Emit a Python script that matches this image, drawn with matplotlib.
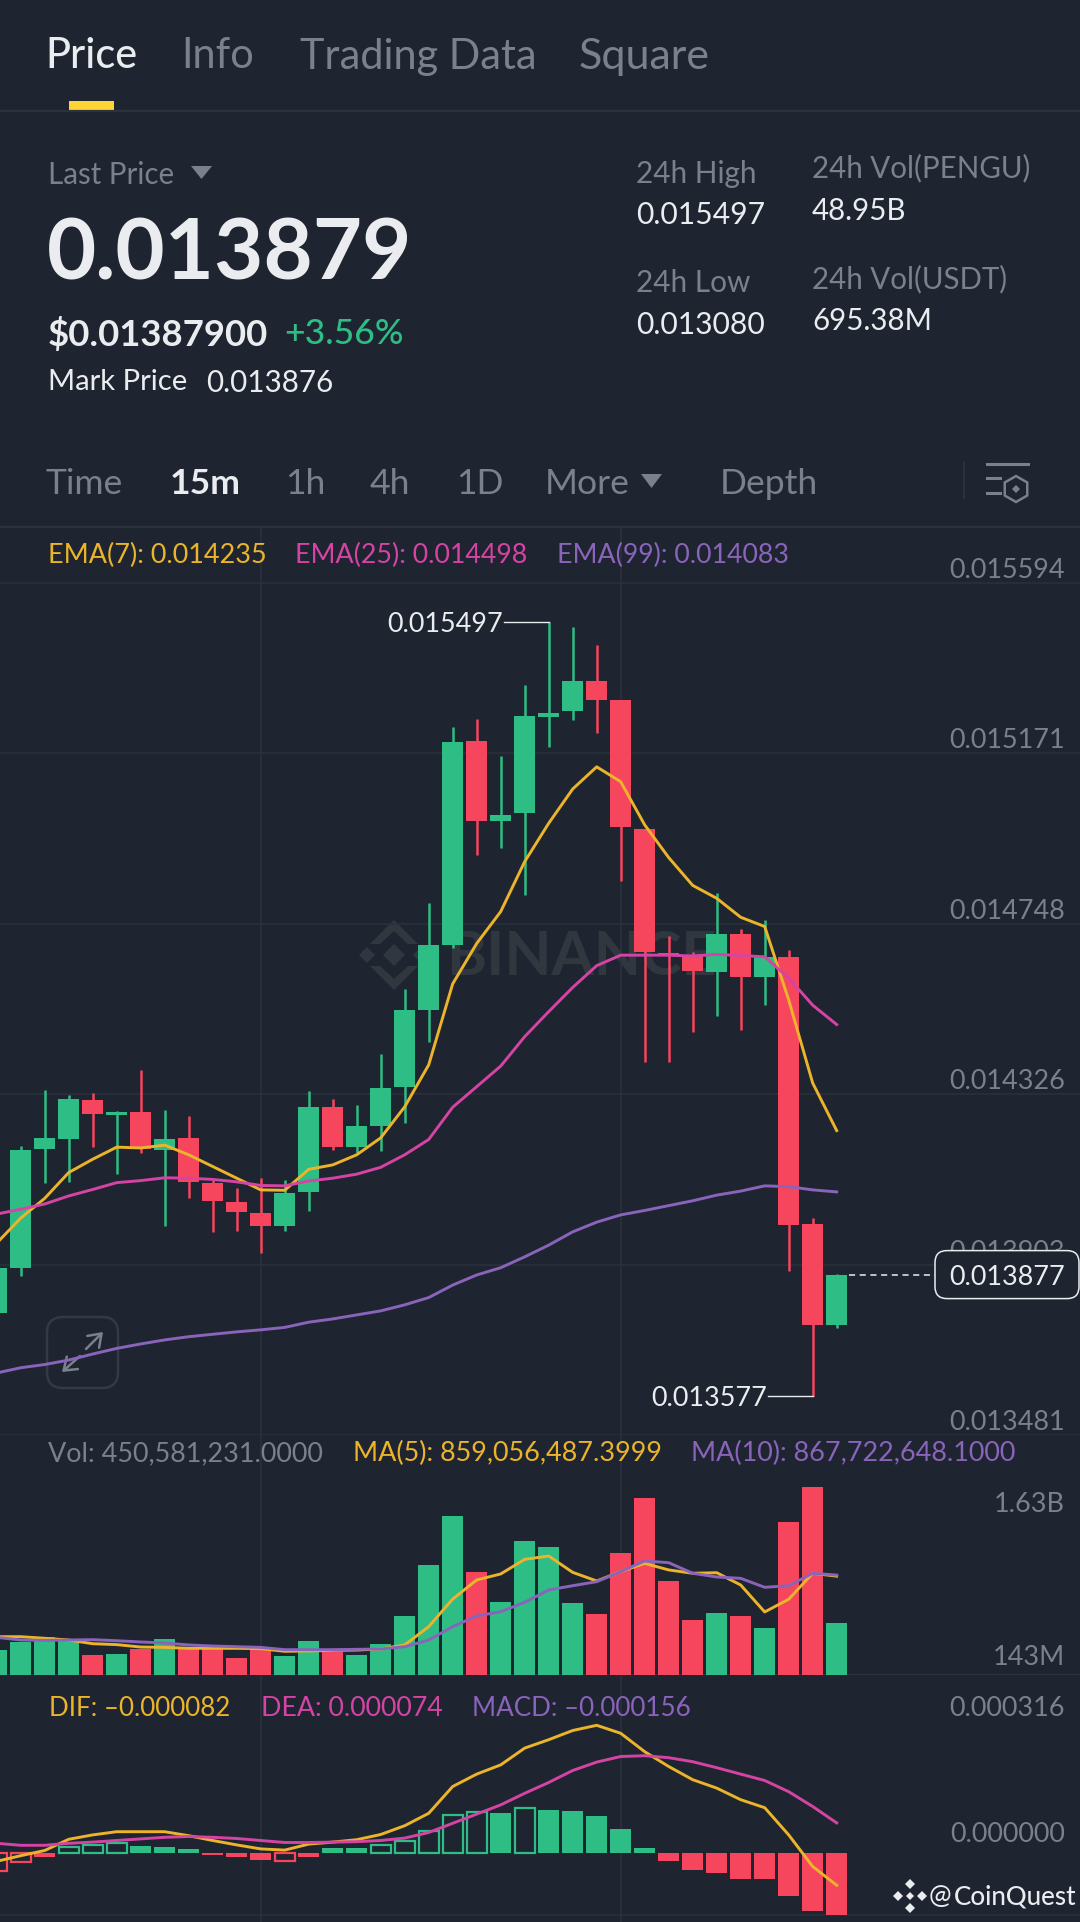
import matplotlib
matplotlib.use('agg')
import matplotlib.pyplot as plt
import numpy as np
from matplotlib.patches import FancyBboxPatch, Polygon, RegularPolygon

# Candles from index -1 to 34, prices in millionths
candle_index = list(range(-1, 35))
opens = [13782, 13894, 14189, 14215, 14311, 14274, 14281, 14187, 14216, 14106, 14058, 14030,
         13999, 14082, 14294, 14194, 14246, 14343, 14534, 14695, 15202, 15003, 15023, 15261,
         15275, 15349, 15303, 14984, 14676, 14669, 14628, 14723, 14617, 14666, 14003, 13752]
highs = [13894, 14197, 14336, 14323, 14328, 14284, 14385, 14286, 14271, 14113, 14092, 14117,
         14113, 14332, 14313, 14299, 14424, 14585, 14800, 15235, 15255, 15165, 15340, 15497,
         15483, 15438, 15303, 14984, 14718, 14679, 14823, 14736, 14757, 14683, 14018, 13880]
lows = [13782, 13874, 14106, 14108, 14195, 14127, 14180, 13999, 14069, 13983, 13985, 13931,
        13985, 14036, 14187, 14179, 14184, 14255, 14455, 14687, 14918, 14936, 14820, 15187,
        15252, 15220, 14854, 14404, 14404, 14480, 14518, 14484, 14547, 13886, 13577, 13746]
closes = [13894, 14187, 14216, 14313, 14276, 14280, 14189, 14214, 14107, 14060, 14032, 13999,
          14080, 14293, 14194, 14247, 14341, 14534, 14695, 15199, 15003, 15017, 15264, 15270,
          15349, 15303, 14988, 14679, 14668, 14631, 14723, 14615, 14666, 14000, 13754, 13877]

ema7 = [13956, 14018, 14067, 14131, 14164, 14194, 14192, 14199, 14175, 14146, 14117, 14088,
        14087, 14139, 14150, 14175, 14217, 14294, 14398, 14599, 14699, 14778, 14902, 14997,
        15082, 15137, 15100, 14993, 14912, 14843, 14811, 14764, 14741, 14559, 14353, 14235]
ema25 = [14028, 14040, 14053, 14073, 14089, 14106, 14111, 14118, 14117, 14114, 14108, 14099,
         14098, 14110, 14117, 14127, 14144, 14175, 14213, 14293, 14344, 14395, 14468, 14530,
         14590, 14644, 14670, 14670, 14670, 14668, 14672, 14669, 14666, 14613, 14546, 14498]
ema99 = [13634, 13647, 13655, 13666, 13681, 13695, 13706, 13716, 13724, 13730, 13736, 13741,
         13747, 13760, 13768, 13778, 13788, 13803, 13821, 13852, 13877, 13895, 13922, 13951,
         13984, 14008, 14026, 14037, 14049, 14061, 14075, 14085, 14098, 14096, 14088, 14083]

# Volume in millions
volume = [217, 287, 327, 293, 174, 185, 223, 313, 238, 246, 145, 246, 162, 293, 203, 177, 269, 510,
          956, 1382, 895, 632, 1162, 1110, 626, 530, 1057, 1538, 817, 475, 542, 510, 406, 1327, 1630, 451]
vol_ma5 = [333, 333, 319, 304, 272, 264, 243, 240, 232, 232, 232, 229, 206, 209, 214, 217, 226, 261,
           420, 660, 826, 878, 1005, 1034, 892, 817, 898, 970, 913, 884, 889, 782, 548, 658, 884, 859]
vol_ma10 = [327, 304, 301, 304, 307, 298, 287, 278, 261, 252, 246, 240, 220, 220, 220, 223, 226, 246,
            304, 420, 513, 550, 632, 739, 776, 811, 898, 991, 976, 884, 852, 840, 762, 776, 884, 868]

# MACD in millionths
macd = [-46, -24, -10, 13, 19, 25, 17, 15, 8, -7, -12, -19, -20, -10, 12, 12, 19, 30,
        53, 94, 101, 100, 111, 107, 104, 92, 58, 12, -20, -44, -52, -65, -67, -108, -147, -156]
macd_hollow = [1, 1, 0, 1, 1, 1, 0, 0, 0, 0, 0, 0, 1, 0, 0, 0, 1, 1,
               1, 1, 1, 0, 1, 0, 0, 0, 0, 0, 0, 0, 0, 0, 0, 0, 0, 0]
dif = [-22, -8, 5, 33, 44, 52, 52, 52, 42, 30, 19, 9, 6, 21, 26, 32, 45, 67,
       98, 165, 196, 219, 261, 282, 305, 318, 298, 252, 215, 182, 161, 132, 112, 44, -35, -82]
dea = [23, 18, 18, 23, 26, 30, 34, 38, 40, 38, 35, 30, 25, 25, 26, 27, 30, 36,
       50, 73, 96, 119, 148, 175, 205, 226, 240, 242, 237, 227, 212, 196, 180, 152, 115, 74]

price_ticks = [0.015594, 0.015171, 0.014748, 0.014326, 0.013903, 0.013481]
price_tick_labels = ['0.015594', '0.015171', '0.014748', '0.014326', '0.013903', '0.013481']
time_grid = [10, 25]
high_price = 0.015497
low_price = 0.013577
last_price = 0.013877

BG = '#1e2530'
GRID = '#2b323d'
GREEN = '#2ebd85'
RED = '#f6465d'
YELLOW = '#ebb42a'
MAGENTA = '#d544a4'
PURPLE = '#8a63bb'
GRAY = '#7a818c'
WHITE = '#eaecef'
MARK = '#30373f'

plt.rcParams['font.family'] = ['Lato', 'DejaVu Sans']

W, H = 1080, 1922
fig = plt.figure(figsize=(W / 100, H / 100), dpi=100, facecolor=BG)


def panel(top, bottom, ymin, ymax):
    """Full width axes between two pixel rows, x in candle units."""
    ax = fig.add_axes([0, 1 - bottom / H, 1, (bottom - top) / H])
    ax.set_xlim((0 - 20.7) / 24, (W - 20.7) / 24)
    ax.set_ylim(ymin, ymax)
    ax.patch.set_alpha(0)
    ax.axis('off')
    for x in time_grid:
        ax.axvline(x, color=GRID, lw=1.2, zorder=0)
    return ax


def pixel_axes(zorder):
    ax = fig.add_axes([0, 0, 1, 1], zorder=zorder)
    ax.set_xlim(0, W)
    ax.set_ylim(H, 0)
    ax.patch.set_alpha(0)
    ax.axis('off')
    return ax


# Header and other chrome, in pixel coordinates
ui = pixel_axes(-1)
# Legends and the author tag go over the chart panels
over = pixel_axes(5)


def label(x, y, s, color=GRAY, px=27, weight='normal', ha='left', ax=None):
    # Lato sits a little high in its box, hence the 2.5 px
    (ax or ui).text(x, y + 2.5, s, color=color, fontsize=px * 0.72, fontweight=weight,
                    ha=ha, va='center', zorder=5)


def triangle(x0, x1, y0, y1):
    ui.add_patch(Polygon([(x0, y0), (x1, y0), ((x0 + x1) / 2, y1)], closed=True, color=GRAY, lw=0))


label(45, 54, 'Price', WHITE, 41.5, 'medium')
label(181, 54, 'Info', GRAY, 41.5)
label(300, 54, 'Trading Data', GRAY, 41.5)
label(579, 54, 'Square', GRAY, 43)
ui.add_patch(plt.Rectangle((69, 101), 45, 9, color='#fcd535', lw=0))
ui.plot([0, W], [111, 111], color=GRID, lw=1.6)

label(48, 172, 'Last Price', GRAY, 29.5)
triangle(191, 212, 166, 179)
label(47, 253, '0.013879', WHITE, 85, 'bold')
label(48, 332, '$0.01387900', WHITE, 36.5, 'bold')
label(284, 332, '+3.56%', GREEN, 35.5, 'medium')
label(48, 380, 'Mark Price', WHITE, 29.3)
label(206, 380, '0.013876', WHITE, 29.6)

label(636, 171, '24h High', GRAY, 29.8)
label(636, 213, '0.015497', WHITE, 30)
label(636, 281, '24h Low', GRAY, 29.8)
label(636, 323, '0.013080', WHITE, 30)
label(812, 166, '24h Vol(PENGU)', GRAY, 29.5)
label(812, 209, '48.95B', WHITE, 29.5)
label(812, 277, '24h Vol(USDT)', GRAY, 29.5)
label(812, 319, '695.38M', WHITE, 29.5)

label(46, 482, 'Time', GRAY, 35.5)
label(170, 482, '15m', WHITE, 35.5, 'bold')
label(285, 482, '1h', GRAY, 35.5)
label(370, 482, '4h', GRAY, 35.5)
label(456, 482, '1D', GRAY, 35.5)
label(545, 482, 'More', GRAY, 35.5)
triangle(641, 662, 474, 488)
label(720, 482, 'Depth', GRAY, 35.5)

# Settings icon at the end of the interval row
ui.plot([964, 964], [463, 498], color=GRID, lw=1.5)
ui.plot([987, 1028], [464, 464], color=GRAY, lw=2.2)
ui.plot([987, 1000], [478, 478], color=GRAY, lw=2.2)
ui.plot([987, 1000], [493, 493], color=GRAY, lw=2.2)
ui.add_patch(RegularPolygon((1016, 489), 6, radius=13, fill=False, edgecolor=GRAY, lw=1.8))
ui.add_patch(RegularPolygon((1016, 489), 4, radius=4, color=GRAY, lw=0))
ui.plot([0, W], [527, 527], color=GRID, lw=1.6)

# Watermark logo behind the candles
for cx, cy, r in [(394, 955, 11), (367, 955, 8), (421, 955, 8)]:
    ui.add_patch(RegularPolygon((cx, cy), 4, radius=r, color=MARK, lw=0, zorder=1))
ui.add_patch(Polygon([(394, 920), (418, 944), (408, 944), (394, 931), (380, 944), (370, 944)],
                     closed=True, color=MARK, lw=0, zorder=1))
ui.add_patch(Polygon([(394, 990), (418, 966), (408, 966), (394, 979), (380, 966), (370, 966)],
                     closed=True, color=MARK, lw=0, zorder=1))
ui.text(446, 957, 'BINANCE', color=MARK, fontsize=44, fontweight='bold', va='center', zorder=1)

# Expand button
ui.add_patch(FancyBboxPatch((57, 1327), 51, 51, boxstyle='round,pad=10,rounding_size=16',
                            fill=False, edgecolor='#333a46', lw=1.8, zorder=1))
ui.annotate('', xy=(103, 1332), xytext=(86, 1349), zorder=1,
            arrowprops=dict(arrowstyle='->,head_length=0.35,head_width=0.25', color=GRAY, lw=1.8,
                            mutation_scale=24, shrinkA=0, shrinkB=0))
ui.annotate('', xy=(62, 1372), xytext=(80, 1356), zorder=1,
            arrowprops=dict(arrowstyle='->,head_length=0.35,head_width=0.25', color=GRAY, lw=1.8,
                            mutation_scale=24, shrinkA=0, shrinkB=0))

# Price panel, 2.4795e-6 per pixel
ax_price = panel(527, 1434.7, 0.013481, 0.013481 + (1434.7 - 527) * 2.4795e-6)
ox = np.array(candle_index)
o = np.array(opens) / 1e6
c = np.array(closes) / 1e6
up = c >= o
colors = [GREEN if u else RED for u in up]
ax_price.vlines(ox, np.array(lows) / 1e6, np.array(highs) / 1e6, colors=colors, lw=1.8, zorder=2)
ax_price.bar(ox, np.abs(c - o), bottom=np.minimum(o, c), width=0.875, color=colors, zorder=3)
ax_price.plot(ox, np.array(ema7) / 1e6, color=YELLOW, lw=2.1, zorder=4)
ax_price.plot(ox, np.array(ema25) / 1e6, color=MAGENTA, lw=2.1, zorder=4)
ax_price.plot(ox, np.array(ema99) / 1e6, color=PURPLE, lw=2.1, zorder=4)
for value, text in zip(price_ticks, price_tick_labels):
    ax_price.axhline(value, color=GRID, lw=1.1, zorder=0)
    ax_price.annotate(text, xy=(1, value), xycoords=('axes fraction', 'data'), xytext=(-15 * 0.72, 12.5 * 0.72),
                      textcoords='offset points', color=GRAY, fontsize=27 * 0.72, ha='right', va='center', zorder=1)

# High and low markers
ax_price.plot([20.14, 22], [high_price, high_price], color=WHITE, lw=1, zorder=2)
ax_price.annotate('0.015497', xy=(20.14, high_price), xytext=(-1, -2), textcoords='offset points',
                  color=WHITE, fontsize=27 * 0.72, ha='right', va='center')
ax_price.plot([31.14, 33], [low_price, low_price], color=WHITE, lw=1, zorder=2)
ax_price.annotate('0.013577', xy=(31.14, low_price), xytext=(-1, -2), textcoords='offset points',
                  color=WHITE, fontsize=27 * 0.72, ha='right', va='center')

# Last price tag
ax_price.plot([34.5, 38.1], [last_price, last_price], color=WHITE, lw=1.1, ls=(0, (4, 3)), zorder=5)
ax_price.add_patch(FancyBboxPatch((945, 1260.6), 124, 28, boxstyle='round,pad=10,rounding_size=12', facecolor=BG,
                                  edgecolor=WHITE, lw=1.1, zorder=6, transform=ui.transData))
ax_price.annotate('0.013877', xy=(1, last_price), xycoords=('axes fraction', 'data'), xytext=(-15 * 0.72, -2),
                  textcoords='offset points', color=WHITE, fontsize=27 * 0.72, ha='right', va='center', zorder=7)

label(48, 553, 'EMA(7): 0.014235', YELLOW, ax=over)
label(295, 553, 'EMA(25): 0.014498', MAGENTA, 26.8, ax=over)
label(557, 553, 'EMA(99): 0.014083', PURPLE, 26.8, ax=over)

# Volume panel, 8.69M per pixel
ax_vol = panel(1434.7, 1675, 0, (1675 - 1434.7) * 8.69)
ax_vol.bar(ox, volume, width=0.875, color=colors, zorder=2)
ax_vol.plot(ox, vol_ma5, color=YELLOW, lw=2.1, zorder=3)
ax_vol.plot(ox, vol_ma10, color=PURPLE, lw=2.1, zorder=4)
ax_vol.axhline(0, color=GRID, lw=1.6, zorder=1)

label(48, 1451, 'Vol: 450,581,231.0000', ax=over)
label(353, 1451, 'MA(5): 859,056,487.3999', YELLOW, ax=over)
label(691, 1451, 'MA(10): 867,722,648.1000', PURPLE, ax=over)
label(1065, 1502, '1.63B', ha='right', ax=over)
label(1065, 1655, '143M', ha='right', ax=over)

# MACD panel, 2.5e-6 per pixel
ax_macd = panel(1675, 1922, -(1922 - 1852.5) * 2.5, (1852.5 - 1675) * 2.5)
ax_macd.axhline(-156, color=GRID, lw=1.1, zorder=0)
for x, value, hollow, up_bar in zip(ox, macd, macd_hollow, np.array(macd) >= 0):
    color = GREEN if up_bar else RED
    if hollow:
        ax_macd.bar(x, value, width=0.84, facecolor='none', edgecolor=color, lw=1.6, zorder=2)
    else:
        ax_macd.bar(x, value, width=0.875, color=color, zorder=2)
ax_macd.plot(ox, dif, color=YELLOW, lw=2.1, zorder=3)
ax_macd.plot(ox, dea, color=MAGENTA, lw=2.1, zorder=3)

label(49, 1706, 'DIF: \u20130.000082', YELLOW, 26, ax=over)
label(261, 1706, 'DEA: 0.000074', MAGENTA, 26.8, ax=over)
label(472, 1706, 'MACD: \u20130.000156', PURPLE, 26, ax=over)
label(1065, 1706, '0.000316', ha='right', ax=over)
label(1065, 1832, '0.000000', ha='right', ax=over)

# Author tag in the corner
for cx, cy, r in [(910, 1884, 5), (898, 1896, 5), (922, 1896, 5), (910, 1908, 5), (910, 1896, 4)]:
    over.add_patch(RegularPolygon((cx, cy), 4, radius=r, color=WHITE, lw=0))
label(929, 1894, '@', WHITE, 27, ax=over)
label(954, 1894, 'CoinQuest', WHITE, 26, 'medium', ax=over)

fig.savefig('out.png', dpi=100, facecolor=BG)
